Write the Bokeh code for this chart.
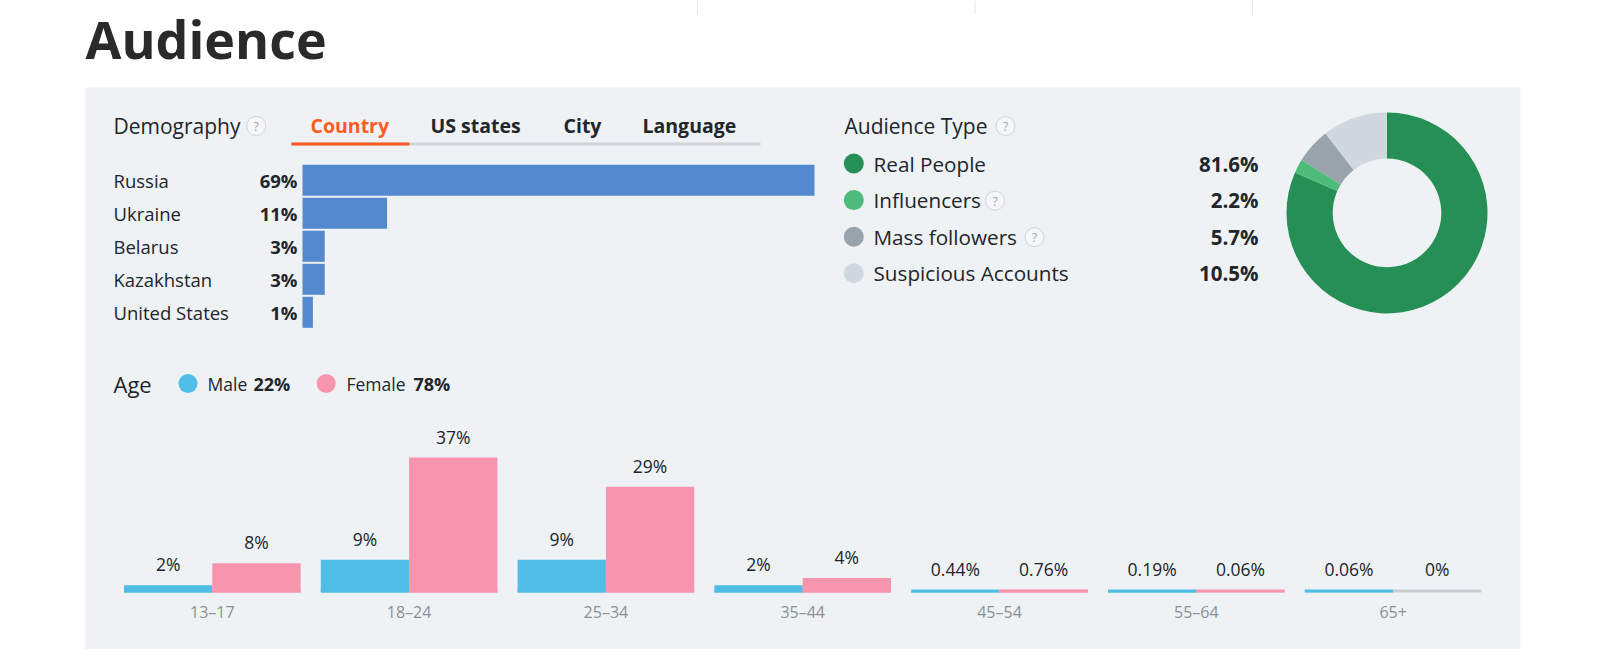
import numpy as np
from bokeh.plotting import figure
from bokeh.models import Range1d, ColumnDataSource
from bokeh.transform import dodge
from bokeh.core.properties import value
from bokeh.embed import file_html
from bokeh.resources import INLINE

# ---------------- data ----------------
countries = ["Russia", "Ukraine", "Belarus", "Kazakhstan", "United States"]
country_share = [69.0, 11.4, 3.0, 3.0, 1.4]

tabs = ["Country", "US states", "City", "Language"]

audience_types = ["Real People", "Influencers", "Mass followers", "Suspicious Accounts"]
audience_share = [81.6, 2.2, 5.7, 10.5]

age_groups = ["13–17", "18–24", "25–34", "35–44", "45–54", "55–64", "65+"]
male_share = [2, 9, 9, 2, 0.44, 0.19, 0.06]
female_share = [8, 37, 29, 4, 0.76, 0.06, 0]
male_total = 22
female_total = 78

# ---------------- styles / layout ----------------
FONT = value("Open Sans")
INK = "#222529"
PANEL = "#eef2f5"
BLUE_BAR = "#5488cf"
MALE_C = "#4fbde6"
FEMALE_C = "#f794ae"
ZERO_C = "#c9cdd3"
ORANGE = "#fc5a1e"
TYPE_COLORS = ["#268f55", "#4dbb79", "#98a3ab", "#d1d7de"]

W, H = 1584, 649
OX, OY = 0, 0  # figure origin in picture coordinates


def lin_range(v0, v1, p0, p1, lo, hi):
    k = (v1 - v0) / (p1 - p0)
    return Range1d(v0 + (lo - p0) * k, v0 + (hi - p0) * k)


p = figure(width=W, height=H, x_range=Range1d(OX, OX + W), y_range=Range1d(OY + H, OY),
           output_backend="svg", toolbar_location=None, min_border=0, title=None)
p.axis.visible = False
p.grid.visible = False
p.outline_line_color = None
p.background_fill_color = "white"
p.border_fill_color = "white"

XL, XH = OX, OX + W          # picture x at frame left / right
YB, YT = OY + H, OY          # picture y at frame bottom / top

# extra ranges (sub-chart scales)
TYPE_Y0, TYPE_DY = 163.0, 36.6
p.extra_x_ranges["cx"] = lin_range(0, max(country_share), 302, 814, XL, XH)
p.extra_y_ranges["cy"] = lin_range(0, len(countries) - 1, 179.8, 311.8, YB, YT)
p.extra_y_ranges["ty"] = lin_range(0, len(audience_types) - 1, TYPE_Y0,
                                   TYPE_Y0 + TYPE_DY * (len(audience_types) - 1), YB, YT)
p.extra_x_ranges["ax"] = lin_range(0, len(age_groups) - 1, 211.8, 1392.6, XL, XH)
p.extra_y_ranges["ay"] = lin_range(0, max(female_share), 592, 457, YB, YT)
BAR_W = 0.4487  # width of one age bar in group units

# ---------------- page decoration ----------------
p.segment(x0=[697, 974.5, 1252], y0=0, x1=[697, 974.5, 1252], y1=14, line_color="#e3e6ea", line_width=1)
p.text(x=[85], y=[38], text=["Audience"], text_font=FONT, text_font_style="bold",
       text_font_size="52px", text_color="#2a2a2a", text_baseline="middle")
p.quad(left=85, right=1520, top=87, bottom=650, fill_color=PANEL, line_color=None)


def help_icon(x, y):
    p.scatter(x=[x], y=[y], size=19, fill_color="#f5f7f9", line_color="#d0d4d9", line_width=1)
    p.text(x=[x], y=[y + 0.5], text=["?"], text_font=FONT, text_font_size="12px",
           text_color="#9fa4aa", text_align="center", text_baseline="middle")


HEAD_Y = 125
# ---------------- demography / country ----------------
p.text(x=[113], y=[HEAD_Y], text=["Demography"], text_font=FONT, text_font_size="21px",
       text_color=INK, text_baseline="middle")
help_icon(255.7, HEAD_Y + 0.5)
tab_x = [310, 430, 563, 642]
p.text(x=tab_x, y=[HEAD_Y] * len(tabs), text=tabs, text_font=FONT, text_font_style="bold",
       text_font_size="19.5px", text_color=[ORANGE] + [INK] * (len(tabs) - 1), text_baseline="middle")
p.segment(x0=[291], y0=[143.5], x1=[760], y1=[143.5], line_color="#cfd4d9", line_width=3)
p.segment(x0=[291], y0=[143.5], x1=[409], y1=[143.5], line_color=ORANGE, line_width=3)

cidx = list(range(len(countries)))
p.hbar(y=cidx, left=0, right=country_share, height=0.94, x_range_name="cx", y_range_name="cy",
       fill_color=BLUE_BAR, line_color=None)
p.text(x=[113] * len(countries), y=cidx, y_range_name="cy", text=countries, text_font=FONT,
       text_font_size="18.5px", text_color=INK, text_baseline="middle")
p.text(x=[297] * len(countries), y=cidx, y_range_name="cy",
       text=[f"{round(v)}%" for v in country_share], text_font=FONT, text_font_style="bold",
       text_font_size="18.5px", text_color=INK, text_align="right", text_baseline="middle")

# ---------------- audience type ----------------
p.text(x=[844], y=[HEAD_Y], text=["Audience Type"], text_font=FONT, text_font_size="21px",
       text_color=INK, text_baseline="middle")
help_icon(1005, HEAD_Y + 0.5)
tidx = list(range(len(audience_types)))
p.scatter(x=[853.3] * len(tidx), y=tidx, y_range_name="ty", size=20, fill_color=TYPE_COLORS,
          line_color=None)
p.text(x=[873] * len(tidx), y=tidx, y_range_name="ty", text=audience_types, text_font=FONT,
       text_font_size="20.7px", text_color=INK, text_baseline="middle")
help_after = {1: 994.5, 2: 1034}
for i, hx in help_after.items():
    help_icon(hx, TYPE_Y0 + TYPE_DY * i + 0.5)
p.text(x=[1258] * len(tidx), y=tidx, y_range_name="ty",
       text=[f"{v}%" for v in audience_share], text_font=FONT, text_font_style="bold",
       text_font_size="20.5px", text_color=INK, text_align="right", text_baseline="middle")

share = np.array(audience_share, dtype=float)
frac = share / share.sum()
cum = np.concatenate([[0], np.cumsum(frac)])
start_ang = np.pi / 2 - 2 * np.pi * cum[:-1]
end_ang = np.pi / 2 - 2 * np.pi * cum[1:]
p.annular_wedge(x=[1386.5] * len(share), y=[212.4] * len(share), inner_radius=54.3, outer_radius=100.5,
                inner_radius_units="screen", outer_radius_units="screen",
                start_angle=start_ang, end_angle=end_ang, direction="clock",
                fill_color=TYPE_COLORS, line_color=None)

# ---------------- age ----------------
AGE_Y = 383
p.text(x=[113], y=[AGE_Y], text=["Age"], text_font=FONT, text_font_size="22px",
       text_color=INK, text_baseline="middle")
p.scatter(x=[187.5, 325.7], y=[AGE_Y, AGE_Y], size=19, fill_color=[MALE_C, FEMALE_C], line_color=None)
p.text(x=[207, 346], y=[AGE_Y, AGE_Y], text=["Male", "Female"], text_font=FONT, text_font_size="17.5px",
       text_color=INK, text_baseline="middle")
p.text(x=[253, 413], y=[AGE_Y, AGE_Y], text=[f"{male_total}%", f"{female_total}%"], text_font=FONT,
       text_font_style="bold", text_font_size="18px", text_color=INK, text_baseline="middle")

TRACK = 0.8  # minimal visible bar height (in %)
gidx = list(range(len(age_groups)))
for shares, col, side in ((male_share, MALE_C, -0.5), (female_share, FEMALE_C, 0.5)):
    src = ColumnDataSource(dict(
        g=gidx, v=shares,
        c=[col if v > 0 else ZERO_C for v in shares],
        t=[TRACK] * len(shares),
        ly=[max(v, TRACK) for v in shares],
        lab=[f"{v:g}%" for v in shares]))
    xx = dodge("g", side * BAR_W, range=p.extra_x_ranges["ax"])
    p.vbar(x=xx, top="t", bottom=0, width=BAR_W, source=src, x_range_name="ax",
           y_range_name="ay", fill_color="c", line_color=None)
    p.vbar(x=xx, top="v", bottom=0, width=BAR_W, source=src, x_range_name="ax",
           y_range_name="ay", fill_color="c", line_color=None)
    p.text(x=xx, y="ly", text="lab", source=src, x_range_name="ax", y_range_name="ay",
           text_font=FONT, text_font_size="17.5px", text_color=INK, text_align="center",
           text_baseline="middle", y_offset=-21)

p.text(x=gidx, y=[611] * len(age_groups), x_range_name="ax", text=age_groups,
       text_font=FONT, text_font_size="16px", text_color="#8b9096", text_align="center",
       text_baseline="middle")

open("out.html", "w").write(file_html(p, INLINE))
